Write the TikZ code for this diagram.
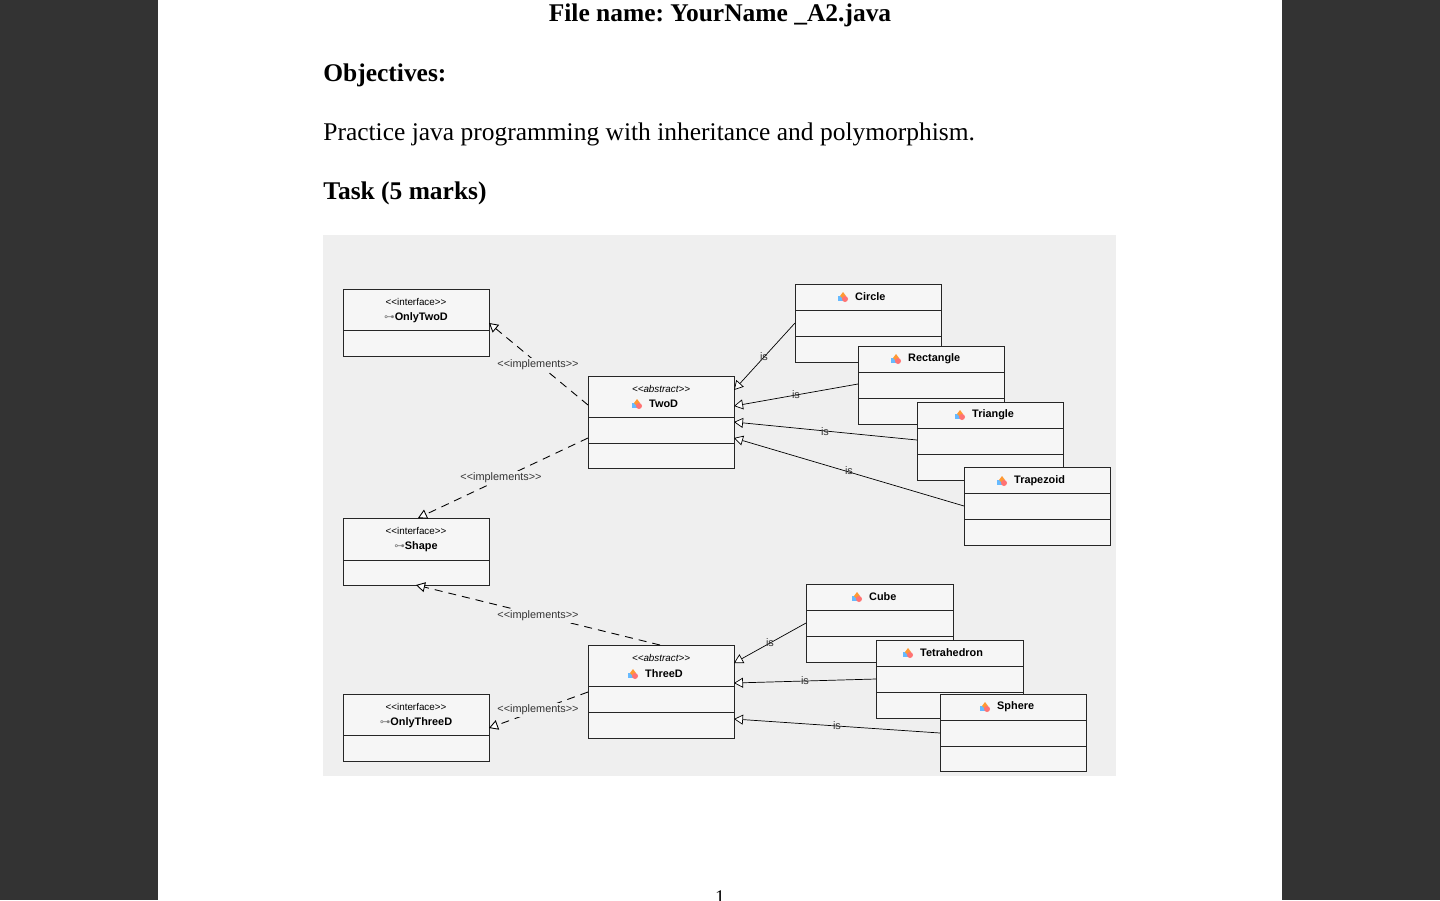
\documentclass[tikz,border=0pt]{standalone}
\usepackage{fontspec}
\setmainfont{Liberation Serif}
\newfontfamily\uml{Liberation Sans}
\newfontfamily\djv{DejaVu Sans}
\usetikzlibrary{arrows.meta}
\frenchspacing
\definecolor{bggray}{HTML}{EFEFEF}
\definecolor{boxfill}{HTML}{F6F6F6}
\tikzset{
  umlbox/.style={draw=black!85,line width=0.5pt,fill=boxfill},
  sepline/.style={draw=black!85,line width=0.45pt},
  impl/.style={dashed,dash pattern=on 1.6mm off 1.2mm,line width=0.5pt,-{Triangle[open,length=1.8mm,width=2mm,fill=white]}},
  isrel/.style={line width=0.4pt,-{Triangle[open,length=1.8mm,width=2mm,fill=white]}},
  lbl/.style={font=\uml\fontsize{6.2}{7}\selectfont,fill=bggray,inner sep=1pt,text=black!80},
  stereo/.style={font=\uml\fontsize{5.6}{7}\selectfont},
  cname/.style={font=\uml\bfseries\fontsize{6.2}{7}\selectfont},
}
\newcommand{\clsicon}[2]{%
  \fill[blue!45!cyan!60] (#1-5,#2-1) rectangle (#1+1,#2+4);
  \fill[orange!80] (#1-3,#2-1) -- (#1,#2-5) -- (#1+3,#2-1) -- (#1,#2+2) -- cycle;
  \fill[red!55] (#1+2,#2+2) circle (3);}
\newcommand{\boxtwo}[7]{%
  \node[umlbox,minimum width={(#4-#2)*0.02cm},minimum height={(#5-#3)*0.02cm},inner sep=0,anchor=north west] (#1) at (#2,#3) {};
  \draw[sepline] (#2,#6) -- (#4,#6);
  \draw[sepline] (#2,#7) -- (#4,#7);}
\newcommand{\boxone}[6]{%
  \node[umlbox,minimum width={(#4-#2)*0.02cm},minimum height={(#5-#3)*0.02cm},inner sep=0,anchor=north west] (#1) at (#2,#3) {};
  \draw[sepline] (#2,#6) -- (#4,#6);}
\begin{document}
\begin{tikzpicture}[x=0.02cm,y=-0.02cm]
\useasboundingbox (0,0) rectangle (1440,900);
\fill[black!80] (0,0) rectangle (1440,900);
\fill[white] (158,0) rectangle (1282,900);
\node[font=\bfseries\fontsize{14.5}{16}\selectfont] (title) at (720,15) {File name: YourName \_A2.java};
\node[font=\bfseries\fontsize{14.5}{16}\selectfont,anchor=west,inner sep=0] (obj) at (323,75) {Objectives:};
\node[font=\fontsize{14.5}{16}\selectfont,anchor=west,inner sep=0] (prac) at (323,134) {Practice java programming with inheritance and polymorphism.};
\node[font=\bfseries\fontsize{14.5}{16}\selectfont,anchor=west,inner sep=0] (task) at (323,193) {Task (5 marks)};
\node[font=\fontsize{11}{12}\selectfont] (pg) at (720,897) {1};

\fill[bggray] (323,235) rectangle (1116,776);

\boxone{onlytwod}{343}{289}{489}{356}{330}
\node[stereo] (s1) at (416,302) {<<interface>>};
\node[cname] (n1) at (416,318) {{\mdseries\djv\color{gray}\fontsize{6}{7}\selectfont ⊶}OnlyTwoD};
\boxone{shape}{343}{518}{489}{585}{560}
\node[stereo] (s2) at (416,531) {<<interface>>};
\node[cname] (n2) at (416,547) {{\mdseries\djv\color{gray}\fontsize{6}{7}\selectfont ⊶}Shape};
\boxone{onlythreed}{343}{694}{489}{761}{735}
\node[stereo] (s3) at (416,707) {<<interface>>};
\node[cname] (n3) at (416,723) {{\mdseries\djv\color{gray}\fontsize{6}{7}\selectfont ⊶}OnlyThreeD};

\boxtwo{twod}{588}{376}{734}{468}{417}{443}
\node[stereo,font=\uml\itshape\fontsize{5.6}{7}\selectfont] (s4) at (661,389) {<<abstract>>};
\clsicon{637}{404}
\node[cname,anchor=west] (n4) at (643,404) {TwoD};
\boxtwo{threed}{588}{645}{734}{738}{686}{712}
\node[stereo,font=\uml\itshape\fontsize{5.6}{7}\selectfont] (s5) at (661,658) {<<abstract>>};
\clsicon{633}{674}
\node[cname,anchor=west] (n5) at (639,674) {ThreeD};

\boxtwo{circle}{795}{284}{941}{362}{310}{336}
\clsicon{843}{297}\node[cname,anchor=west] (n6) at (849,297) {Circle};
\boxtwo{rect}{858}{346}{1004}{424}{372}{398}
\clsicon{896}{359}\node[cname,anchor=west] (n7) at (902,359) {Rectangle};
\boxtwo{tri}{917}{402}{1063}{480}{428}{454}
\clsicon{960}{415}\node[cname,anchor=west] (n8) at (966,415) {Triangle};
\boxtwo{trap}{964}{467}{1110}{545}{493}{519}
\clsicon{1002}{481}\node[cname,anchor=west] (n9) at (1008,481) {Trapezoid};
\boxtwo{cube}{806}{584}{953}{662}{610}{636}
\clsicon{857}{597}\node[cname,anchor=west] (n10) at (863,597) {Cube};
\boxtwo{tetra}{876}{640}{1023}{718}{666}{692}
\clsicon{908}{653}\node[cname,anchor=west] (n11) at (914,653) {Tetrahedron};
\boxtwo{sphere}{940}{694}{1086}{771}{720}{746}
\clsicon{985}{707}\node[cname,anchor=west] (n12) at (991,707) {Sphere};

\coordinate (a1) at (588,405); \coordinate (b1) at (489,323);
\coordinate (a2) at (588,438); \coordinate (b2) at (418,518);
\coordinate (a3) at (660,645); \coordinate (b3) at (416,585);
\coordinate (a4) at (588,692); \coordinate (b4) at (489,728);
\draw[impl] (a1) -- (b1);
\draw[impl] (a2) -- (b2);
\draw[impl] (a3) -- (b3);
\draw[impl] (a4) -- (b4);
\node[lbl] (l1) at (538,365) {<<implements>>};
\node[lbl] (l2) at (501,478) {<<implements>>};
\node[lbl] (l3) at (538,616) {<<implements>>};
\node[lbl] (l4) at (538,710) {<<implements>>};

\coordinate (c1) at (795,323); \coordinate (d1) at (734,390);
\coordinate (c2) at (858,384); \coordinate (d2) at (734,406);
\coordinate (c3) at (917,440); \coordinate (d3) at (734,422);
\coordinate (c4) at (964,506); \coordinate (d4) at (734,438);
\coordinate (c5) at (806,623); \coordinate (d5) at (734,663);
\coordinate (c6) at (876,679); \coordinate (d6) at (734,683);
\coordinate (c7) at (940,733); \coordinate (d7) at (734,719);
\foreach \i in {1,...,7} {\draw[isrel] (c\i) -- (d\i);}
\node[lbl,fill=none] (i1) at (764,357) {is};
\node[lbl,fill=none] (i2) at (796,395) {is};
\node[lbl,fill=none] (i3) at (825,432) {is};
\node[lbl,fill=none] (i4) at (849,471) {is};
\node[lbl,fill=none] (i5) at (770,643) {is};
\node[lbl,fill=none] (i6) at (805,681) {is};
\node[lbl,fill=none] (i7) at (837,726) {is};
\end{tikzpicture}
\end{document}
